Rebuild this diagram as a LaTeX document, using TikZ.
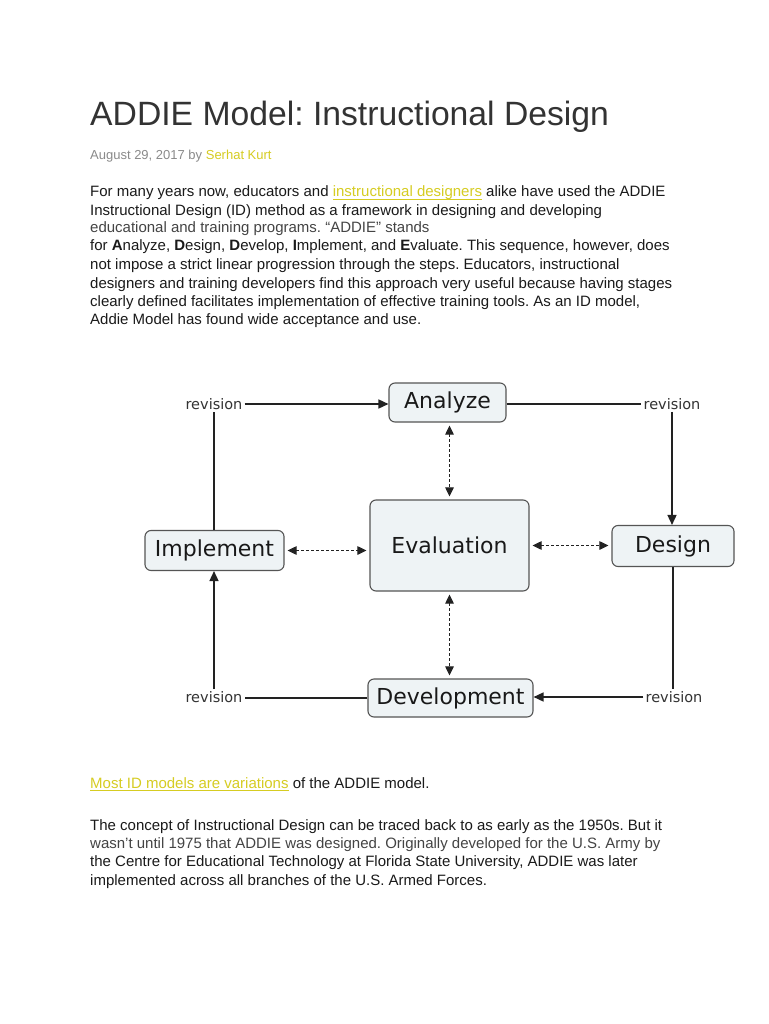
\documentclass[tikz,border=0pt]{standalone}
\usepackage{fontspec}
\setmainfont{Liberation Sans}
\newfontfamily\dvfont{DejaVu Sans}
\usetikzlibrary{arrows.meta}
\definecolor{txt}{HTML}{1A1A1A}
\definecolor{ttl}{HTML}{333333}
\definecolor{datec}{HTML}{8A8A8A}
\definecolor{linkc}{HTML}{D6CC22}
\definecolor{lightt}{HTML}{444444}
\definecolor{boxfill}{HTML}{EEF3F5}
\definecolor{boxline}{HTML}{555555}
\definecolor{linec}{HTML}{222222}
\tikzset{
  line/.style={inner sep=0pt, anchor=base west, font=\fontsize{15}{18}\selectfont, text=txt},
  stagebox/.style={draw=boxline, fill=boxfill, rounded corners=6pt, line width=1.1pt,
     inner sep=0pt, font=\dvfont\fontsize{22}{26}\selectfont, text=black!90},
  rev/.style={inner sep=2pt, font=\dvfont\fontsize{14.5}{17}\selectfont, text=ttl},
  solid line/.style={draw=linec, line width=1.5pt},
  solid arrow/.style={solid line, -{Triangle[length=10pt,width=9pt]}},
  dash arrow/.style={draw=linec, line width=1pt, dash pattern=on 3pt off 2pt,
     {Triangle[length=9pt,width=8.5pt]}-{Triangle[length=9pt,width=8.5pt]}, shorten <=3pt, shorten >=3pt}
}
\newcommand{\lnk}[1]{\textcolor{linkc}{\setbox0\hbox{#1}\rlap{\rule[-2.6pt]{\wd0}{1pt}}\box0}}
\begin{document}
\frenchspacing
\begin{tikzpicture}[x=1pt,y=-1pt]
\useasboundingbox[fill=white] (0,0) rectangle (768,1024);

% header
\node[line, font=\fontsize{33.7}{40}\selectfont, text=ttl] (title) at (90,126) {ADDIE Model: Instructional Design};
\node[line, font=\fontsize{13}{15}\selectfont, text=datec] (date) at (90,160) {August 29, 2017 by \textcolor{linkc}{Serhat Kurt}};

% first paragraph
\node[line] (p1) at (90,197) {For many years now, educators and \lnk{instructional designers} alike have used the ADDIE};
\node[line] (p2) at (90,216) {Instructional Design (ID) method as a framework in designing and developing};
\node[line, text=lightt] (p3) at (90,233) {educational and training programs. “ADDIE” stands};
\node[line] (p4) at (90,251) {for \textbf{A}nalyze, \textbf{D}esign, \textbf{D}evelop, \textbf{I}mplement, and \textbf{E}valuate. This sequence, however, does};
\node[line] (p5) at (90,269) {not impose a strict linear progression through the steps. Educators, instructional};
\node[line] (p6) at (90,288) {designers and training developers find this approach very useful because having stages};
\node[line] (p7) at (90,306) {clearly defined facilitates implementation of effective training tools. As an ID model,};
\node[line] (p8) at (90,324) {Addie Model has found wide acceptance and use.};

% diagram boxes
\node[stagebox, minimum width=117pt, minimum height=39pt] (analyze) at (447.5,402.5) {Analyze};
\node[stagebox, minimum width=159pt, minimum height=91pt] (evaluation) at (449.5,545.5) {Evaluation};
\node[stagebox, minimum width=139pt, minimum height=40pt] (implement) at (214.5,550.5) {Implement};
\node[stagebox, minimum width=122pt, minimum height=41pt] (design) at (673,546) {Design};
\node[stagebox, minimum width=165pt, minimum height=38pt] (development) at (450.5,698) {Development};

% revision labels
\node[rev] (revtl) at (214,404) {revision};
\node[rev] (revtr) at (672,404) {revision};
\node[rev] (revbl) at (214,697) {revision};
\node[rev] (revbr) at (674,697) {revision};

% solid cycle
\draw[solid arrow] (revtl.east) -- (revtl.east -| analyze.west);
\draw[solid line] (revtl.south |- implement.north) -- (revtl.south);
\draw[solid line] (analyze.east |- revtr.west) -- (revtr.west);
\draw[solid arrow] (revtr.south) -- (revtr.south |- design.north);
\draw[solid line] (design.south) -- (design.south |- revbr.north);
\draw[solid arrow] (revbr.west) -- (revbr.west -| development.east);
\draw[solid line] (development.west) -- (development.west -| revbl.east);
\draw[solid arrow] (revbl.north) -- (revbl.north |- implement.south);

% dashed links with evaluation
\draw[dash arrow] (analyze.south -| evaluation.north) -- (evaluation.north);
\draw[dash arrow] (implement.east) -- (implement.east -| evaluation.west);
\draw[dash arrow] (evaluation.east) -- (evaluation.east -| design.west);
\draw[dash arrow] (evaluation.south) -- (evaluation.south |- development.north);

% text after the diagram
\node[line] (p9) at (90,788) {\lnk{Most ID models are variations} of the ADDIE model.};
\node[line] (p10) at (90,830) {The concept of Instructional Design can be traced back to as early as the 1950s. But it};
\node[line, text=lightt] (p11) at (90,848) {wasn’t until 1975 that ADDIE was designed. Originally developed for the U.S. Army by};
\node[line] (p12) at (90,866) {the Centre for Educational Technology at Florida State University, ADDIE was later};
\node[line] (p13) at (90,885) {implemented across all branches of the U.S. Armed Forces.};
\end{tikzpicture}
\end{document}
